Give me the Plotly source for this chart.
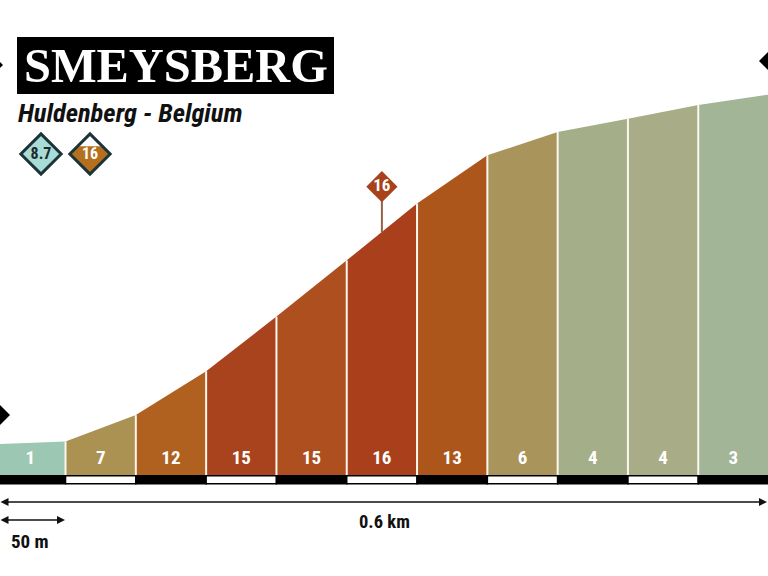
import plotly.graph_objects as go

# gradient profile, one entry per 50 m block
gradients = [1, 7, 12, 15, 15, 16, 13, 6, 4, 4, 3]
distance = [0, 50, 100, 150, 200, 250, 300, 350, 400, 450, 500, 550]
elevation = [4.2, 4.6, 8.2, 14.2, 21.7, 29.4, 37.2, 43.8, 47.0, 48.8, 50.7, 52.1]
colors = [
    "#9cc7b2", "#ab9152", "#b0601f", "#a9431e", "#ad4f1f", "#aa3f1c",
    "#ad561c", "#a9955b", "#a4ae88", "#a8ad88", "#a3b597",
]

title = "SMEYSBERG"
subtitle = "Huldenberg - Belgium"
narrow = "'Roboto Condensed', 'DejaVu Sans Condensed', Roboto"

mids = [d + 25 for d in distance[:-1]]
fig = go.Figure()

# coloured blocks under the profile
for i, col in enumerate(colors):
    fig.add_trace(go.Scatter(
        x=distance[i:i + 2], y=elevation[i:i + 2], mode="lines",
        line=dict(width=0, color=col), fill="tozeroy", fillcolor=col,
    ))

# light separators between blocks
for d, e in zip(distance[1:-1], elevation[1:-1]):
    fig.add_trace(go.Scatter(
        x=[d, d], y=[0, e], mode="lines", line=dict(width=2, color="#fbf6ee"),
    ))

# gradient labels
fig.add_trace(go.Scatter(
    x=mids, y=[2.15] * len(mids), mode="text", text=[str(g) for g in gradients],
    textfont=dict(family=narrow, size=19, color="white", weight="bold"),
))

# distance strip
fig.add_trace(go.Bar(
    x=mids, y=[1.1] * len(mids), base=-1.2, width=50,
    marker=dict(
        color=["black" if i % 2 == 0 else "white" for i in range(len(mids))],
        line=dict(color="black", width=1.5),
    ),
))

# steepest section flag
fig.add_trace(go.Scatter(
    x=[275, 275], y=[33.2, 38], mode="lines", line=dict(width=2, color="#96604a"),
))
fig.add_trace(go.Scatter(
    x=[275], y=[39.5], mode="markers+text", text=["16"], textposition="middle center",
    marker=dict(symbol="diamond", size=24, color="#a9411c"),
    textfont=dict(family=narrow, size=17, color="white", weight="bold"),
))

# start and finish markers, on the pixel axes
fig.add_trace(go.Scatter(
    x=[-11, -4, 773], y=[65, 415, 61], mode="markers", xaxis="x2", yaxis="y2",
    marker=dict(symbol="diamond", size=21.5, color="black"),
))

# difficulty badges, outline drawn again over the snow cap
fig.add_trace(go.Scatter(
    x=[41, 90], y=[154, 154], mode="markers", xaxis="x2", yaxis="y2",
    marker=dict(symbol="diamond", size=31, color=["#a9dcd6", "#b4701d"]),
))
fig.add_trace(go.Scatter(
    x=[90], y=[141.5], mode="markers", xaxis="x2", yaxis="y2",
    marker=dict(symbol="triangle-up", size=19, color="white"),
))
fig.add_trace(go.Scatter(
    x=[41, 90], y=[154, 154], mode="markers", xaxis="x2", yaxis="y2",
    marker=dict(symbol="diamond", size=31, color="rgba(0,0,0,0)",
                line=dict(color="#1c3338", width=3)),
))
fig.add_trace(go.Scatter(
    x=[41, 90], y=[155, 155], mode="text", text=["8.7", "16"], xaxis="x2", yaxis="y2",
    textfont=dict(family=narrow, size=16, color=["#1c2a2c", "white"], weight="bold"),
))

fig.add_shape(type="rect", xref="paper", yref="paper", x0=17 / 768, x1=334 / 768,
              y0=1 - 94 / 576, y1=1 - 37 / 576, fillcolor="black", line_width=0)

ann = dict(showarrow=False, xref="x2", yref="y2")
fig.add_annotation(x=175.5, y=65, text=title, font=dict(family="Liberation Serif", size=48.4, color="white", weight="bold"), **ann)
fig.add_annotation(x=16, y=112, text=subtitle, xanchor="left",
                   font=dict(family=narrow, size=26.5, color="#111111", weight="bold", style="italic"), **ann)
fig.add_annotation(x=384.5, y=522, text="0.6 km", font=dict(family=narrow, size=18.5, color="#111111", weight="bold"), **ann)
fig.add_annotation(x=30, y=541, text="50 m", font=dict(family=narrow, size=19, color="#111111", weight="bold"), **ann)

# distance arrows
for x0, x1, y in [(-1, 767, 502), (-1, 65, 520)]:
    fig.add_annotation(x=x1, y=y, ax=x0, ay=y, xref="x2", yref="y2", axref="x2", ayref="y2",
                       text="", showarrow=True, arrowhead=2, arrowside="end+start",
                       arrowsize=1, arrowwidth=1.6, arrowcolor="#111111")

fig.update_layout(
    width=768, height=576, margin=dict(l=0, r=0, t=0, b=0),
    paper_bgcolor="white", plot_bgcolor="white", showlegend=False, barmode="overlay",
    xaxis=dict(range=[3.4, 549.6], visible=False),
    yaxis=dict(range=[-13.84, 65.07], visible=False),
    xaxis2=dict(range=[0, 768], visible=False, overlaying="x"),
    yaxis2=dict(range=[576, 0], visible=False, overlaying="y"),
)

fig.write_html("out.html", config=dict(displayModeBar=False),
               post_script="document.body.style.margin='0';")
